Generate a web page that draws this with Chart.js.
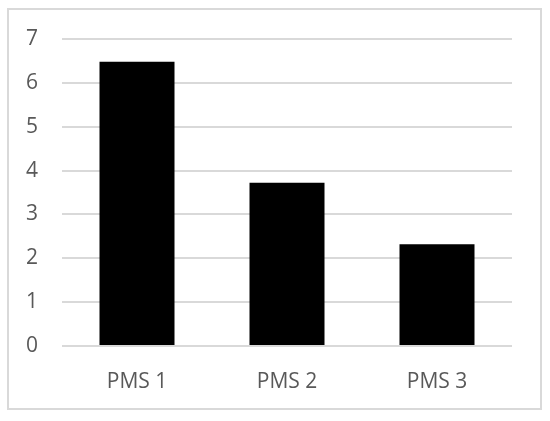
<!DOCTYPE html>
<html>
<head>
<meta charset="utf-8">
<script src="https://cdn.jsdelivr.net/npm/chart.js@4"></script>
<style>
  html, body { margin: 0; padding: 0; background: #fff; }
  #wrap { position: relative; width: 550px; height: 421px; }
</style>
</head>
<body>
<div id="wrap"><canvas id="barChart"></canvas></div>
<script>
// Chart data
const categories = ['PMS 1', 'PMS 2', 'PMS 3'];
const values = [6.48, 3.72, 2.32];
const yTicks = [0, 1, 2, 3, 4, 5, 6, 7];

// Light grey frame round the whole chart
const framePlugin = {
    id: 'frame',
    beforeDraw(chart) {
        const ctx = chart.ctx;
        ctx.save();
        ctx.fillStyle = '#fff';
        ctx.fillRect(0, 0, chart.width, chart.height);
        ctx.strokeStyle = '#d9d9d9';
        ctx.lineWidth = 2;
        ctx.strokeRect(8, 9, 533, 400);
        ctx.restore();
    }
};

const ctx = document.getElementById('barChart');
new Chart(ctx, {
    type: 'bar',
    data: {
        labels: categories,
        datasets: [{
            data: values,
            backgroundColor: '#000',
            categoryPercentage: 0.5,
            barPercentage: 1
        }]
    },
    options: {
        responsive: true,
        maintainAspectRatio: false,
        animation: false,
        layout: { padding: { left: 0, right: 38, top: 39, bottom: 0 } },
        plugins: {
            legend: { display: false },
            tooltip: { enabled: false }
        },
        scales: {
            x: {
                grid: { display: false },
                border: { display: false },
                ticks: {
                    color: '#595959',
                    font: { family: 'Open Sans', size: 21 },
                    padding: 15
                },
                afterFit(scale) { scale.height = 75; }
            },
            y: {
                min: 0,
                max: 7,
                afterBuildTicks(scale) { scale.ticks = yTicks.map(v => ({ value: v })); },
                grid: { color: '#d9d9d9', lineWidth: 2, drawTicks: false },
                border: { display: false },
                ticks: {
                    color: '#595959',
                    font: { family: 'Open Sans', size: 21 },
                    padding: 24
                },
                afterFit(scale) { scale.width = 62; }
            }
        }
    },
    plugins: [framePlugin]
});
</script>
</body>
</html>
